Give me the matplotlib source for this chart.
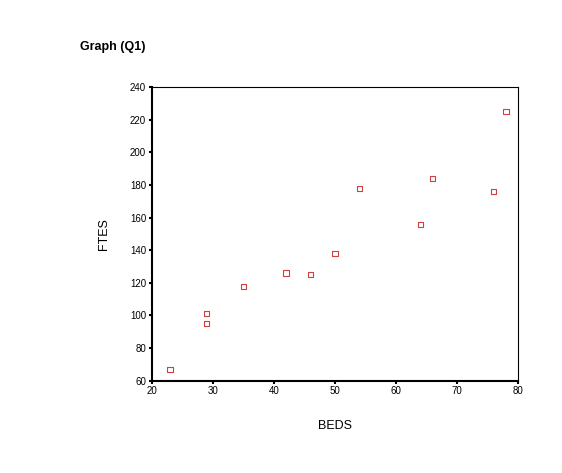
import matplotlib
matplotlib.use("Agg")
import matplotlib.pyplot as plt

beds = [23, 29, 29, 35, 42, 46, 50, 54, 64, 66, 76, 78]
ftes = [67, 101, 95, 118, 126, 125, 138, 178, 156, 184, 176, 225]
xticks = [20, 30, 40, 50, 60, 70, 80]
yticks = [60, 80, 100, 120, 140, 160, 180, 200, 220, 240]

plt.rcParams['font.family'] = ['Liberation Sans', 'DejaVu Sans']
fig = plt.figure(figsize=(5.62, 4.73), dpi=100)
ax = fig.add_axes([0.270, 0.195, 0.652, 0.621])
ax.scatter(beds, ftes, marker='s', s=14, facecolors='none', edgecolors='#d04040', linewidths=0.8)
ax.set_xlim(20, 80)
ax.set_ylim(60, 240)
ax.set_xticks(xticks)
ax.set_yticks(yticks)
ax.tick_params(labelsize=7, length=2, width=1.5, pad=2)
for s in ax.spines.values():
    s.set_linewidth(0.8)
ax.spines['left'].set_linewidth(1.5)
ax.spines['bottom'].set_linewidth(1.5)
ax.set_xlabel('BEDS', fontsize=9, labelpad=17)
ax.set_ylabel('FTES', fontsize=9, labelpad=14)
fig.text(0.142, 0.895, 'Graph (Q1)', fontsize=9, fontweight='bold')
fig.savefig('out.png', dpi=100)
